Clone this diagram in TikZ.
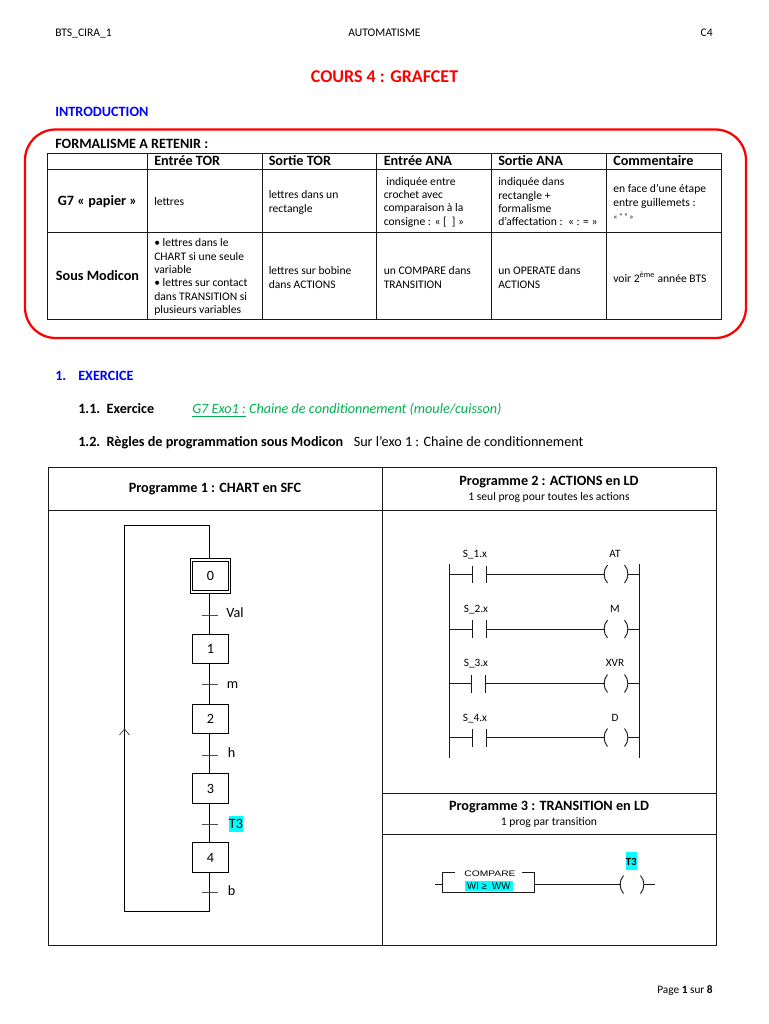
\documentclass[tikz,border=0pt]{standalone}
\usepackage{fontspec}
\setmainfont{Carlito}
\newfontfamily\widefont{Liberation Sans}
\usetikzlibrary{positioning,calc}
\definecolor{surligne}{RGB}{0,255,255}
\definecolor{vert}{RGB}{0,176,80}
\definecolor{bleu}{RGB}{0,0,255}
\definecolor{rouge}{RGB}{255,0,0}

\begin{document}
\begin{tikzpicture}[
    x=0.75pt, y=-0.75pt,
    txt/.style={inner sep=0pt, anchor=west, text height=0.95em, text depth=0.23em, font=\fontsize{10.65}{13}\selectfont},
    txtb/.style={txt, font=\fontsize{10.65}{13}\selectfont\bfseries},
    small/.style={txt, font=\fontsize{8.7}{10}\selectfont},
    rowhead/.style={txtb, anchor=center},
    cell/.style={inner sep=0pt, anchor=west, align=left, yshift=-0.75pt, font=\fontsize{8.7}{10}\selectfont},
    prog/.style={txtb, anchor=center},
    subprog/.style={small, anchor=center},
    etape/.style={draw, line width=0.7pt, minimum width=26.6pt, minimum height=22pt, inner sep=0pt, font=\fontsize{10.65}{13}\selectfont},
    link/.style={line width=0.75pt},
    tick/.style={line width=0.5pt, black!70},
    rung/.style={line width=0.7pt, black!90},
    tag/.style={inner sep=0pt, text height=0.95em, text depth=0.23em, font=\fontsize{8.4}{10}\selectfont},
    grid/.style={line width=0.75pt, black!90}
]
    \useasboundingbox (0,0) rectangle (768,1024);

    % Page header
    \node[small] (hl) at (55,32) {BTS\_CIRA\_1};
    \node[small, anchor=center] (hc) at (384.5,32) {AUTOMATISME};
    \node[small, anchor=east] (hr) at (713,32) {C4};
    \node[txtb, anchor=center, rouge, font=\fontsize{13.5}{16}\selectfont\bfseries] (title) at (384.5,78) {COURS 4 : GRAFCET};
    \node[txtb, bleu] (intro) at (55,112) {INTRODUCTION};

    % Red frame
    \draw[rouge, line width=1.7pt, rounded corners=23pt] (25,129.5) rectangle (746,338);
    \node[txtb] (form) at (55,144) {FORMALISME A RETENIR :};

    % Table 1
    \draw[grid] (47.5,153.5) rectangle (721,319);
    \draw[grid] (47.5,169.5) -- (721,169.5);
    \draw[grid] (47.5,232.5) -- (721,232.5);
    \draw[grid] (147.5,153.5) -- (147.5,319);
    \draw[grid] (262.5,153.5) -- (262.5,319);
    \draw[grid] (376.5,153.5) -- (376.5,319);
    \draw[grid] (491.5,153.5) -- (491.5,319);
    \draw[grid] (606.5,153.5) -- (606.5,319);

    % Table 1 headers
    \node[txtb] (c1) at (154,161) {Entrée TOR};
    \node[txtb] (c2) at (268.5,161) {Sortie TOR};
    \node[txtb] (c3) at (383.5,161) {Entrée ANA};
    \node[txtb] (c4) at (498,161) {Sortie ANA};
    \node[txtb] (c5) at (613,161) {Commentaire};

    % Row G7
    \node[rowhead] (g0) at (97.5,201) {G7 « papier »};
    \node[cell] (g1) at (154,201) {lettres};
    \node[cell] (g2) at (268.5,201.5) {lettres dans un\\rectangle};
    \node[cell] (g3) at (383.5,201) {\ indiquée entre\\crochet avec\\comparaison à la\\consigne : « [ \ ] »};
    \node[cell] (g4) at (498,201) {indiquée dans\\rectangle +\\formalisme\\d’affectation : \,« : = »};
    \node[cell] (g5) at (613,201) {en face d’une étape\\entre guillemets :\\{\fontsize{6}{10}\selectfont « “ ” »}};

    % Row Modicon
    \node[rowhead] (m0) at (97.5,275.5) {Sous Modicon};
    \node[cell] (m1) at (154,276) {• lettres dans le\\CHART si une seule\\variable\\• lettres sur contact\\dans TRANSITION si\\plusieurs variables};
    \node[cell] (m2) at (268.5,276.5) {lettres sur bobine\\dans ACTIONS};
    \node[cell] (m3) at (383.5,276.5) {un COMPARE dans\\TRANSITION};
    \node[cell] (m4) at (498,276.5) {un OPERATE dans\\ACTIONS};
    \node[cell] (m5) at (613,276) {voir 2\textsuperscript{ème} année BTS};

    % Section 1
    \node[txtb, bleu] (n1) at (55,376) {1.};
    \node[txtb, bleu] (n1t) at (78,376) {EXERCICE};
    \node[txtb] (n11) at (78,409) {1.1.\ \ Exercice};
    \node[txt, vert, font=\fontsize{10.65}{13}\selectfont\itshape] (n11t) at (192,409) {\underline{G7 Exo1 :} Chaine de conditionnement (moule/cuisson)};
    \node[txtb] (n12) at (78,441.5) {1.2.\ \ Règles de programmation sous Modicon};
    \node[txt] (n12t) at (353.5,441.5) {Sur l’exo 1 : Chaine de conditionnement};

    % Table 2
    \draw[grid] (48,467.5) rectangle (716,945.5);
    \draw[grid] (48,510) -- (716,510);
    \draw[grid] (382,467.5) -- (382,945.5);
    \draw[grid] (382,793) -- (716,793);
    \draw[grid] (382,834) -- (716,834);
    \node[prog] (p1) at (215,488) {Programme 1 : CHART en SFC};
    \node[prog] (p2) at (549,481) {Programme 2 : ACTIONS en LD};
    \node[subprog] (p2s) at (549,496) {1 seul prog pour toutes les actions};
    \node[prog] (p3) at (549,806) {Programme 3 : TRANSITION en LD};
    \node[subprog] (p3s) at (549,821) {1 prog par transition};

    % Steps
    \node[etape, minimum width=30.5pt, minimum height=25.7pt] (s0o) at (210.5,576) {};
    \node[etape] (s0) at (210.5,576) {0};
    \node[etape] (s1) at (210.5,649) {1};
    \node[etape] (s2) at (210.5,719) {2};
    \node[etape] (s3) at (210.5,788.5) {3};
    \node[etape] (s4) at (210.5,857.5) {4};

    % Links
    \coordinate (top) at (209.5,525);
    \coordinate (topl) at (124.5,525);
    \coordinate (botl) at (124.5,911);
    \coordinate (bot) at (209.5,911);
    \draw[link] (s0o.south -| top) -- (s1.north -| top);
    \draw[link] (s1.south -| top) -- (s2.north -| top);
    \draw[link] (s2.south -| top) -- (s3.north -| top);
    \draw[link] (s3.south -| top) -- (s4.north -| top);
    \draw[link] (s4.south -| top) -- (bot) -- (botl) -- (topl) -- (top) -- (s0o.north -| top);
    \draw[line width=0.5pt, black!80] (119.5,735) -- (124.5,729) -- (129.5,735);

    % Transitions
    \draw[tick] (202,615) -- (218,615);
    \draw[tick] (202,684) -- (218,684);
    \draw[tick] (202,755) -- (218,755);
    \draw[tick] (202,824.5) -- (218,824.5);
    \draw[tick] (202,892.5) -- (218,892.5);
    \node[txt] (tv) at (226,613) {Val};
    \node[txt] (tm) at (226.5,684) {m};
    \node[txt] (th) at (227.5,753) {h};
    \node[txt, fill=surligne, text height=0.85em, text depth=0.25em, minimum width=11pt, minimum height=11.7pt] (tt) at (228.3,824) {T3};
    \node[txt] (tb) at (227.5,891) {b};

    % Rung 1
    \draw[rung] (449.5,564) -- (449.5,758);
    \draw[rung] (639,564) -- (639,758);
    \node[tag] (c1a) at (475,553) {S\_1.x};
    \node[tag] (b1a) at (615,552.5) {AT};
    \draw[rung] (449.5,574) -- (472,574) (472,565.5) -- (472,583) (486,565.5) -- (486,583) (486,574) -- (604.5,574);
    \draw[rung] (607.5,565) .. controls (603,570) and (603,578) .. (607.5,583);
    \draw[rung] (624.5,565) .. controls (629,570) and (629,578) .. (624.5,583);
    \draw[rung] (628,574) -- (639,574);

    % Rung 2
    \node[tag] (c2a) at (476,608) {S\_2.x};
    \node[tag] (b2a) at (615,607.5) {M};
    \draw[rung] (449.5,629) -- (472,629) (472,620) -- (472,638) (486,620) -- (486,638) (486,629) -- (604.5,629);
    \draw[rung] (607.5,620) .. controls (603,625) and (603,633) .. (607.5,638);
    \draw[rung] (624.5,620) .. controls (629,625) and (629,633) .. (624.5,638);
    \draw[rung] (628,629) -- (639,629);

    % Rung 3
    \node[tag] (c3a) at (476,662) {S\_3.x};
    \node[tag] (b3a) at (615,662) {XVR};
    \draw[rung] (449.5,683.5) -- (471,683.5) (471,674.5) -- (471,692.5) (485,674.5) -- (485,692.5) (485,683.5) -- (604.5,683.5);
    \draw[rung] (607.5,674.5) .. controls (603,679.5) and (603,687.5) .. (607.5,692.5);
    \draw[rung] (624.5,674.5) .. controls (629,679.5) and (629,687.5) .. (624.5,692.5);
    \draw[rung] (628,683.5) -- (639,683.5);

    % Rung 4
    \node[tag] (c4a) at (475,717) {S\_4.x};
    \node[tag] (b4a) at (615,717) {D};
    \draw[rung] (449.5,737.5) -- (472,737.5) (472,728.5) -- (472,746.5) (486,728.5) -- (486,746.5) (486,737.5) -- (604.5,737.5);
    \draw[rung] (607.5,728.5) .. controls (603,733.5) and (603,741.5) .. (607.5,746.5);
    \draw[rung] (624.5,728.5) .. controls (629,733.5) and (629,741.5) .. (624.5,746.5);
    \draw[rung] (628,737.5) -- (639,737.5);

    % Compare block
    \draw[rung] (435,884.5) -- (442,884.5);
    \draw[rung] (455,872) -- (442,872) -- (442,892.5) -- (534.5,892.5) -- (534.5,872) -- (521.5,872);
    \node[inner sep=0pt, xscale=1.28, font=\widefont\fontsize{6}{7}\selectfont] (cmp) at (490,873.5) {COMPARE};
    \node[fill=surligne, inner sep=0pt, minimum width=35.7pt, minimum height=6.9pt, font=\widefont\fontsize{7.2}{8}\selectfont] (wi) at (488.8,886) {WI ≥ \ WW};
    \draw[rung] (534.5,884.5) -- (620.5,884.5);
    \draw[rung] (623.5,875.5) .. controls (619,880.5) and (619,888.5) .. (623.5,893.5);
    \draw[rung] (640.5,875.5) .. controls (645,880.5) and (645,888.5) .. (640.5,893.5);
    \draw[rung] (644,884.5) -- (655,884.5);
    \node[tag, fill=surligne, text height=0.95em, text depth=0.33em, minimum width=8.6pt, minimum height=10.5pt, font=\fontsize{8.2}{9}\selectfont\bfseries] (t3b) at (631.3,861) {T3};

    % Page footer
    \node[small, anchor=east, font=\fontsize{8.5}{10}\selectfont] (foot) at (713,988.5) {Page \textbf{1} sur \textbf{8}};
\end{tikzpicture}
\end{document}
